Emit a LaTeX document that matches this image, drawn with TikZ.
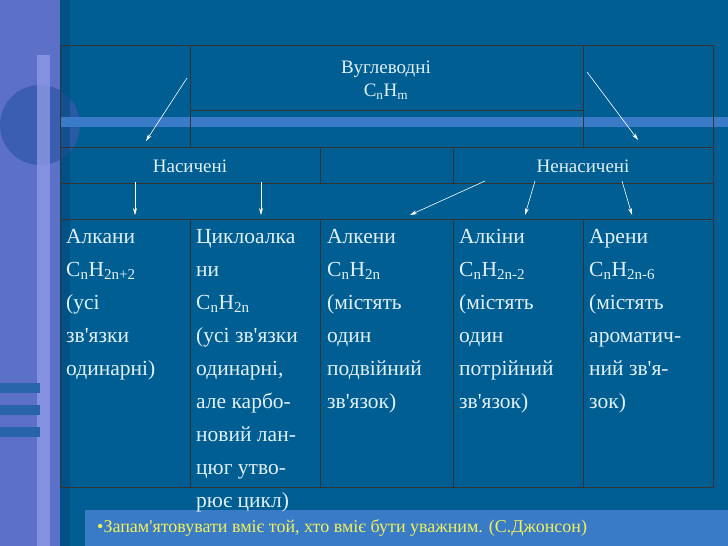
\documentclass[tikz,border=0pt]{standalone}
\usepackage{fontspec}
\setmainfont{Liberation Serif}
\usetikzlibrary{arrows.meta}
\definecolor{bgblue}{RGB}{0,94,146}
\definecolor{stripL}{RGB}{92,112,200}
\definecolor{circC}{RGB}{52,90,170}
\definecolor{vstrip}{RGB}{150,160,235}
\definecolor{barC}{RGB}{40,100,170}
\definecolor{shadeC}{RGB}{0,70,120}
\definecolor{lightband}{RGB}{58,123,200}
\definecolor{quoteC}{RGB}{240,240,90}
\definecolor{txtC}{RGB}{225,240,245}
\newcommand{\ap}{\textquotesingle}
\begin{document}
\begin{tikzpicture}[x=1pt,y=-1pt,
  cell/.style={draw=black!80,line width=0.8pt},
  arr/.style={draw=white,line width=0.6pt,-{Stealth[length=7pt,width=4pt]}},
  txt/.style={text=txtC,font=\fontsize{21.5}{33}\selectfont,align=left,anchor=north west,inner sep=0pt},
  lbl/.style={text=txtC,font=\fontsize{19}{23}\selectfont,inner sep=0pt}]
\useasboundingbox (0,0) rectangle (728,546);
\fill[bgblue] (0,0) rectangle (728,546);
% left strip
\fill[stripL] (0,0) rectangle (60,546);
\fill[circC,opacity=0.8] (40,125) circle (40);
\fill[vstrip,opacity=0.7] (37,55) rectangle (50,546);
\foreach \yy in {388,410,432} \fill[barC] (0,\yy-5) rectangle (40,\yy+5);
\fill[shadeC,opacity=0.5] (60,0) rectangle (70,546);
% stripe
\fill[lightband] (60,117) rectangle (728,127);
% bottom band
\fill[lightband] (85,510) rectangle (728,546);
% table cells
\draw[cell] (60,45) rectangle (190,147);
\draw[cell] (583,45) rectangle (713,147);
\draw[cell] (190,45) rectangle (583,110);
\draw[cell] (190,110) rectangle (583,147);
\draw[cell] (60,147) rectangle (320,183);
\draw[cell] (320,147) rectangle (453,183);
\draw[cell] (453,147) rectangle (713,183);
\draw[cell] (60,183) rectangle (713,219);
\foreach \a/\b in {60/190,190/320,320/453,453/583,583/713} \draw[cell] (\a,219) rectangle (\b,487);
% texts
\node[lbl,align=center] (top) at (386,80) {Вуглеводні\\C\textsubscript{n}H\textsubscript{m}};
\node[lbl] (sat) at (190,166) {Насичені};
\node[lbl] (unsat) at (583,166) {Ненасичені};
\node[txt] (c1) at (66,229) {Алкани\\C\textsubscript{n}H\textsubscript{2n+2}\\(усі\\зв\ap язки\\одинарні)};
\node[txt] (c2) at (196,229) {Циклоалка\\ни\\C\textsubscript{n}H\textsubscript{2n}\\(усі зв\ap язки\\одинарні,\\але карбо-\\новий лан-\\цюг утво-\\рює цикл)};
\node[txt] (c3) at (327,229) {Алкени\\C\textsubscript{n}H\textsubscript{2n}\\(містять\\один\\подвійний\\зв\ap язок)};
\node[txt] (c4) at (459,229) {Алкіни\\C\textsubscript{n}H\textsubscript{2n-2}\\(містять\\один\\потрійний\\зв\ap язок)};
\node[txt] (c5) at (589,229) {Арени\\C\textsubscript{n}H\textsubscript{2n-6}\\(містять\\ароматич-\\ний зв\ap я-\\зок)};
\node[text=quoteC,font=\fontsize{18}{20}\selectfont,anchor=west,inner sep=0pt] (q) at (97,528) {•Запам\ap ятовувати вміє той, хто вміє бути уважним. (С.Джонсон)};
% arrows
\coordinate (a1) at (187,78); \coordinate (a1e) at (146,141);
\coordinate (a2) at (587,72); \coordinate (a2e) at (638,140);
\draw[arr] (a1) -- (a1e);
\draw[arr] (a2) -- (a2e);
\coordinate (s1) at (135,182); \coordinate (s2) at (261,182);
\coordinate (u1) at (485,181); \coordinate (u2) at (535,181); \coordinate (u3) at (622,181);
\draw[arr] (s1) -- (135,215);
\draw[arr] (s2) -- (261,215);
\draw[arr] (u1) -- (410,215);
\draw[arr] (u2) -- (525,215);
\draw[arr] (u3) -- (632,215);
\end{tikzpicture}
\end{document}
